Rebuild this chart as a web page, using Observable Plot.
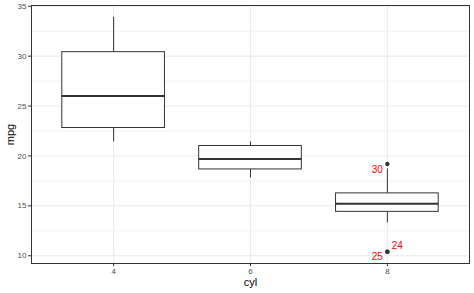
<!DOCTYPE html>
<html>
<head>
<meta charset="utf-8">
<script src="https://cdn.jsdelivr.net/npm/d3@7"></script>
<script src="https://cdn.jsdelivr.net/npm/@observablehq/plot@0.6"></script>
<style>
  html, body { margin: 0; padding: 0; background: #fff; }
</style>
</head>
<body>
<div id="chart"></div>
<script>
// Box-plot statistics of mpg by cyl
const cylGroups = [4, 6, 8];
const whiskerLow = [21.4, 17.8, 13.3];
const q1 = [22.8, 18.65, 14.4];
const medians = [26.0, 19.7, 15.2];
const q3 = [30.4, 21.0, 16.25];
const whiskerHigh = [33.9, 21.4, 18.7];

// Outliers
const outlierCyl = [8, 8, 8];
const outlierMpg = [19.2, 10.4, 10.4];
const outlierLabel = ["30", "24", "25"];

const yTicks = [10, 15, 20, 25, 30, 35];
const yMinor = [12.5, 17.5, 22.5, 27.5, 32.5];
const xTicks = [4, 6, 8];

const boxes = cylGroups.map((c, i) => ({
  cyl: c, lo: whiskerLow[i], q1: q1[i], med: medians[i], q3: q3[i], hi: whiskerHigh[i]
}));
const outliers = outlierCyl.map((c, i) => ({cyl: c, mpg: outlierMpg[i], label: outlierLabel[i]}));
// label placements (offsets in pixels)
const labelDx = [-10, 10, -10];
const labelDy = [6, -6, 5];

const halfBox = 0.75; // box half-width in cyl units (0.75 of a discrete step of 2)
const ink = "#333333";
const gridCol = "#ebebeb";

const chart = Plot.plot({
  width: 474,
  height: 293,
  marginLeft: 31,
  marginRight: 5,
  marginTop: 5,
  marginBottom: 30,
  style: {fontFamily: "'Liberation Sans', Arial, sans-serif", background: "#fff"},
  x: {domain: [2.8, 9.2], axis: null},
  y: {domain: [9.225, 35.075], axis: null},
  marks: [
    Plot.gridY(yMinor, {stroke: gridCol, strokeOpacity: 1, strokeWidth: 0.6}),
    Plot.gridY(yTicks, {stroke: gridCol, strokeOpacity: 1, strokeWidth: 1.1}),
    Plot.gridX(xTicks, {stroke: gridCol, strokeOpacity: 1, strokeWidth: 1.1}),
    Plot.ruleX(boxes, {x: "cyl", y1: "lo", y2: "q1", stroke: ink, strokeWidth: 1}),
    Plot.ruleX(boxes, {x: "cyl", y1: "q3", y2: "hi", stroke: ink, strokeWidth: 1}),
    Plot.rect(boxes, {x1: d => d.cyl - halfBox, x2: d => d.cyl + halfBox, y1: "q1", y2: "q3",
      fill: "white", stroke: ink, strokeWidth: 1}),
    Plot.ruleY(boxes, {y: "med", x1: d => d.cyl - halfBox, x2: d => d.cyl + halfBox,
      stroke: ink, strokeWidth: 2}),
    Plot.dot(outliers, {x: "cyl", y: "mpg", r: 2.2, fill: ink, stroke: null}),
    ...outliers.map((o, i) => Plot.text([o], {x: "cyl", y: "mpg", text: "label",
      dx: labelDx[i], dy: labelDy[i], fill: "red", fontSize: 10})),
    Plot.frame({stroke: ink, strokeWidth: 1}),
    Plot.axisY(yTicks, {tickSize: 3, tickPadding: 2, fontSize: 8, fill: "#4d4d4d",
      stroke: ink, label: null}),
    Plot.axisX(xTicks, {tickSize: 3, tickPadding: 2, fontSize: 8, fill: "#4d4d4d",
      stroke: ink, label: null}),
    Plot.text(["mpg"], {frameAnchor: "left", dx: -21, rotate: -90, fontSize: 11, fill: "#000",
      textAnchor: "middle", lineAnchor: "middle"}),
    Plot.text(["cyl"], {frameAnchor: "bottom", dy: 19, fontSize: 11, fill: "#000",
      textAnchor: "middle", lineAnchor: "middle"})
  ]
});
document.getElementById("chart").appendChild(chart);
</script>
</body>
</html>
